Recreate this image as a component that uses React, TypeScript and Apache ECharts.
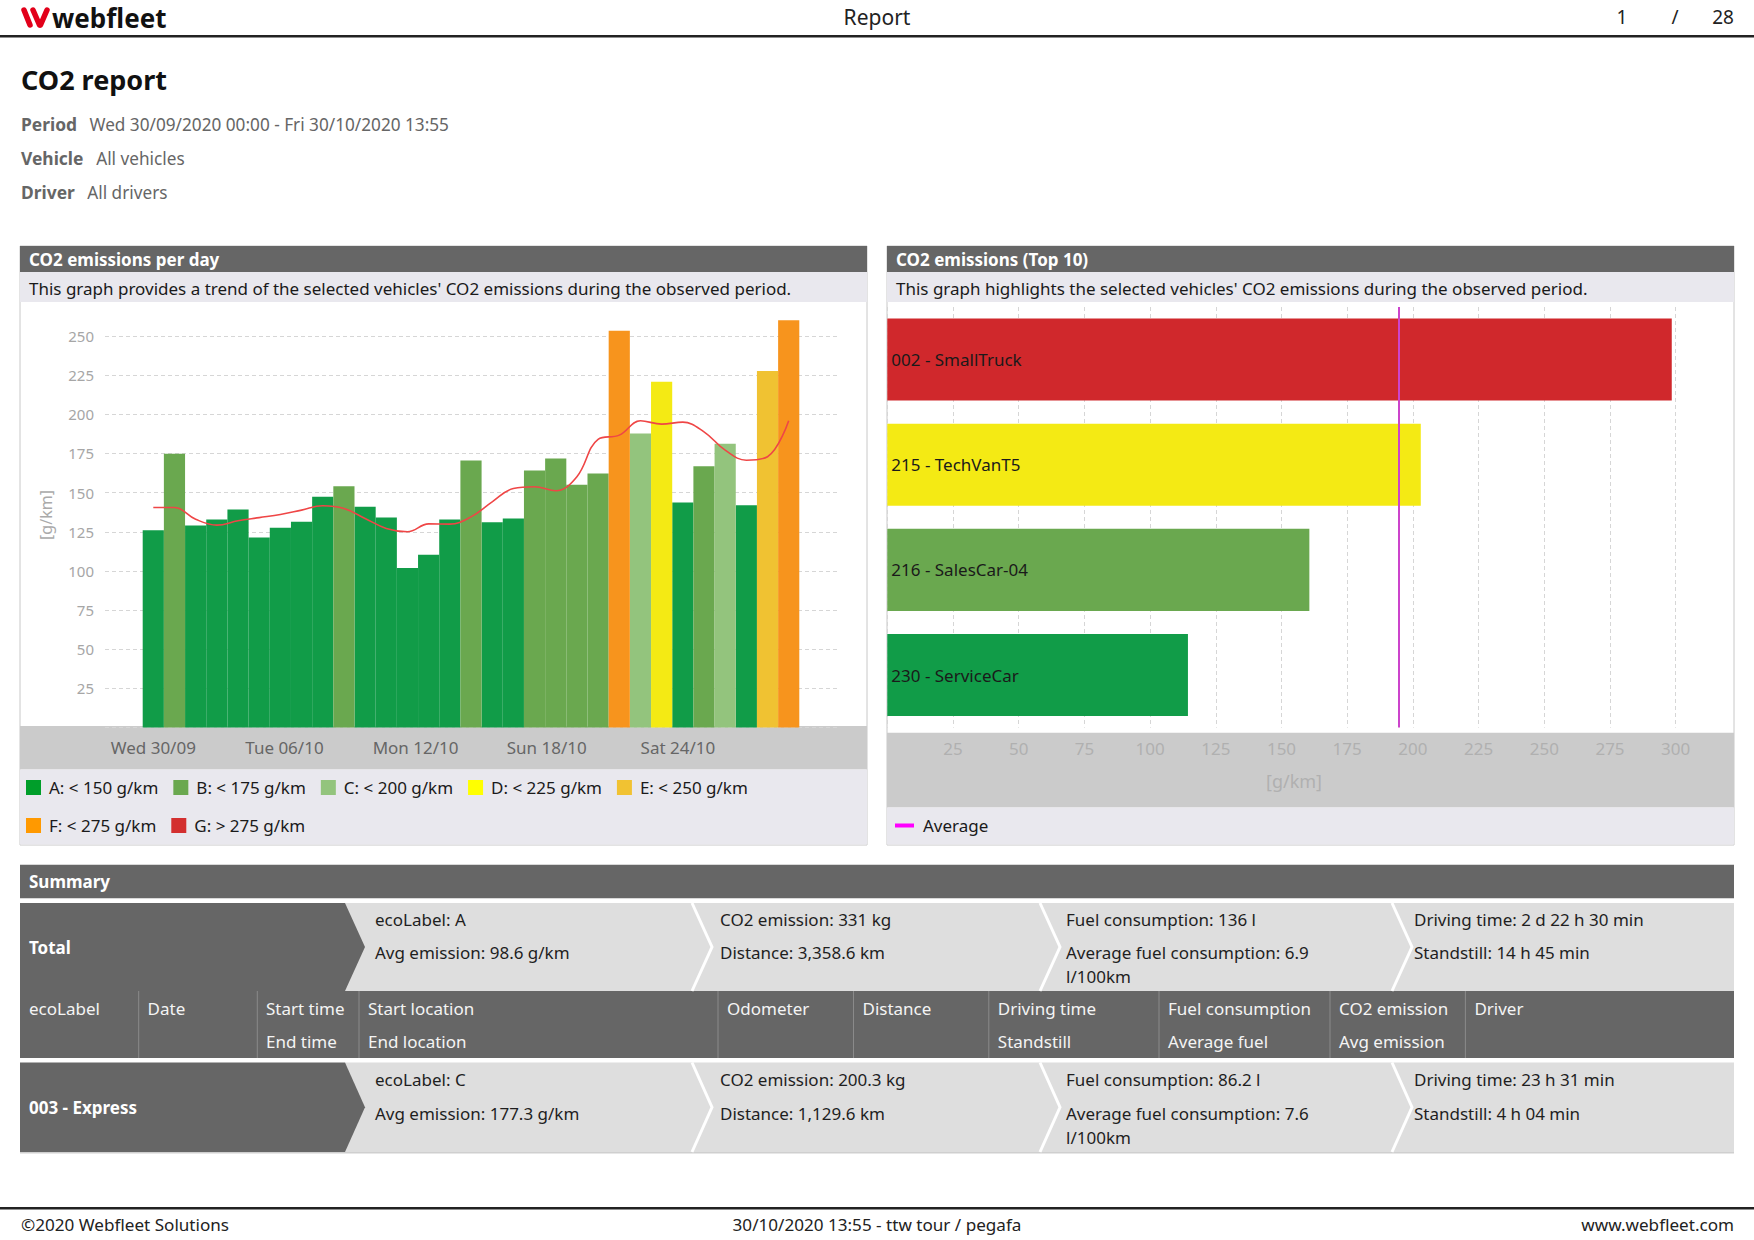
import React, { useEffect, useRef } from "react";
import * as echarts from "echarts";

const FONT = '"Noto Sans", "DejaVu Sans", sans-serif';

// ---------- data ----------
const dayLabels = [
  "Wed 30/09", "Thu 01/10", "Fri 02/10", "Sat 03/10", "Sun 04/10", "Mon 05/10",
  "Tue 06/10", "Wed 07/10", "Thu 08/10", "Fri 09/10", "Sat 10/10", "Sun 11/10",
  "Mon 12/10", "Tue 13/10", "Wed 14/10", "Thu 15/10", "Fri 16/10", "Sat 17/10",
  "Sun 18/10", "Mon 19/10", "Tue 20/10", "Wed 21/10", "Thu 22/10", "Fri 23/10",
  "Sat 24/10", "Sun 25/10", "Mon 26/10", "Tue 27/10", "Wed 28/10", "Thu 29/10",
  "Fri 30/10",
];
const dayTickIndexes = [0, 6, 12, 18, 24];
const dailyEmission = [
  126.0, 174.8, 129.0, 132.8, 139.2, 121.4, 127.5, 131.4, 147.3, 154.1, 140.9,
  134.1, 101.8, 110.3, 132.8, 170.5, 131.1, 133.5, 164.1, 171.8, 155.0, 162.2,
  253.4, 187.8, 220.8, 143.7, 166.9, 181.2, 142.0, 227.6, 260.0,
];
const trendEmission = [
  140.5, 140.5, 133.0, 129.2, 132.0, 134.0, 136.0, 138.8, 141.6, 139.9, 133.5,
  127.1, 125.0, 130.0, 129.9, 134.5, 144.1, 152.6, 153.7, 151.2, 160.1, 184.0,
  186.7, 195.9, 193.7, 195.0, 188.8, 177.1, 170.7, 172.9, 195.9,
];
const classNames = [
  "A: < 150 g/km", "B: < 175 g/km", "C: < 200 g/km", "D: < 225 g/km",
  "E: < 250 g/km", "F: < 275 g/km", "G: > 275 g/km",
];
const classLimits = [150, 175, 200, 225, 250, 275];
const barColors = ["#119c48", "#6aa84f", "#93c47d", "#f4ea14", "#f0c232", "#f7941d", "#d0282c"];
const legendColors = ["#009e2a", "#6aa84f", "#93c47d", "#ffff00", "#f1c232", "#ff9900", "#d32f2f"];
const topVehicles = ["002 - SmallTruck", "215 - TechVanT5", "216 - SalesCar-04", "230 - ServiceCar"];
const topEmission = [298.5, 203.0, 160.6, 114.4];
const averageEmission = 194.5;

const periodText = "Wed 30/09/2020 00:00 - Fri 30/10/2020 13:55";
const totalCells = [
  ["ecoLabel: A", "Avg emission: 98.6 g/km"],
  ["CO2 emission: 331 kg", "Distance: 3,358.6 km"],
  ["Fuel consumption: 136 l", "Average fuel consumption: 6.9", "l/100km"],
  ["Driving time: 2 d 22 h 30 min", "Standstill: 14 h 45 min"],
];
const expressCells = [
  ["ecoLabel: C", "Avg emission: 177.3 g/km"],
  ["CO2 emission: 200.3 kg", "Distance: 1,129.6 km"],
  ["Fuel consumption: 86.2 l", "Average fuel consumption: 7.6", "l/100km"],
  ["Driving time: 23 h 31 min", "Standstill: 4 h 04 min"],
];
const headerColumns = [
  ["ecoLabel"], ["Date"], ["Start time", "End time"], ["Start location", "End location"],
  ["Odometer"], ["Distance"], ["Driving time", "Standstill"],
  ["Fuel consumption", "Average fuel"], ["CO2 emission", "Avg emission"], ["Driver"],
];

// ---------- layout (page px) ----------
const headerColX = [29, 147.6, 266, 368, 727, 862.5, 997.8, 1168, 1339, 1474.4];
const headerSepX = [138.7, 257.3, 359, 718, 853.5, 988.8, 1159, 1330, 1465.4];
const sectionStartX = [345, 692, 1040, 1392];
const sectionTextX = [375, 720, 1066, 1414];

function classOf(v: number) {
  const i = classLimits.findIndex((l) => v < l);
  return i < 0 ? classLimits.length : i;
}

function txt(x: number, y: number, text: string, o: any = {}) {
  return {
    type: "text",
    x,
    y,
    z: o.z ?? 50,
    silent: true,
    style: {
      text,
      fill: o.fill ?? "#1a1a1a",
      fontSize: o.size ?? 17,
      fontFamily: FONT,
      fontWeight: o.weight ?? "normal",
      lineHeight: o.lineHeight,
      align: o.align ?? "left",
      textAlign: o.align ?? "left",
      verticalAlign: "middle",
      textVerticalAlign: "middle",
    },
    rotation: o.rotation ?? 0,
  };
}
function rect(x: number, y: number, w: number, h: number, fill: string, z = -10, stroke?: string) {
  return {
    type: "rect",
    z,
    silent: true,
    shape: { x, y, width: w, height: h },
    style: { fill, stroke: stroke ?? null, lineWidth: stroke ? 1 : 0 },
  };
}

function buildGraphics() {
  const g: any[] = [];
  // header
  const red = "#e2001a";
  [
    [[24, 10], [30, 25]],
    [[33, 10], [39.5, 25]],
    [[47, 10], [40.5, 25]],
  ].forEach((pts) =>
    g.push({
      type: "polyline",
      z: 50,
      silent: true,
      shape: { points: pts },
      style: { stroke: red, lineWidth: 5.5, lineCap: "round", fill: null },
    })
  );
  g.push(txt(52, 18, "webfleet", { size: 26, weight: "bold", fill: "#111", lineHeight: 26 }));
  g.push(txt(877, 17, "Report", { size: 21, align: "center", fill: "#222" }));
  g.push(txt(1622, 17, "1", { size: 19, align: "center", fill: "#222" }));
  g.push(txt(1675, 17, "/", { size: 19, align: "center", fill: "#222" }));
  g.push(txt(1723, 17, "28", { size: 19, align: "center", fill: "#222" }));
  g.push(rect(0, 35, 1754, 2.5, "#222", 40));

  g.push(txt(21, 79, "CO2 report", { size: 27, weight: "bold", fill: "#111" }));
  g.push(txt(21, 124, "Period", { size: 17.4, weight: "bold", fill: "#666" }));
  g.push(txt(89.5, 124, periodText, { size: 17.2, fill: "#666" }));
  g.push(txt(21, 158, "Vehicle", { size: 17.4, weight: "bold", fill: "#666" }));
  g.push(txt(96.2, 158, "All vehicles", { size: 17.2, fill: "#666" }));
  g.push(txt(21, 192, "Driver", { size: 17.4, weight: "bold", fill: "#666" }));
  g.push(txt(87.3, 192, "All drivers", { size: 17.2, fill: "#666" }));

  // panels
  const panels = [
    { x: 20, title: "CO2 emissions per day", desc: "This graph provides a trend of the selected vehicles' CO2 emissions during the observed period.", band: [726, 769.6] },
    { x: 887, title: "CO2 emissions (Top 10)", desc: "This graph highlights the selected vehicles' CO2 emissions during the observed period.", band: [732.7, 807.6] },
  ];
  panels.forEach((p) => {
    g.push(rect(p.x, 246, 847, 599, "#ffffff", -20, "#c8c8c8"));
    g.push(rect(p.x, 246, 847, 26, "#666666", -10));
    g.push(txt(p.x + 9, 259.5, p.title, { size: 17, weight: "bold", fill: "#ffffff" }));
    g.push(rect(p.x, 272, 847, 30, "#e9e8ee", -10));
    g.push(txt(p.x + 9, 288, p.desc, { size: 17, fill: "#1a1a1a" }));
    g.push(rect(p.x, p.band[0], 847, p.band[1] - p.band[0], "#cbcbcb", -10));
    g.push(rect(p.x, p.band[1], 847, 844.6 - p.band[1], "#e9e8ee", -10));
  });
  g.push(txt(46, 515, "[g/km]", { size: 16, fill: "#aaaaaa", align: "center", rotation: Math.PI / 2 }));
  g.push(txt(1294, 781, "[g/km]", { size: 18, fill: "#b0b0b0", align: "center" }));

  // summary
  g.push(rect(20, 864.7, 1714, 33.5, "#666666", -10));
  g.push(txt(29, 881.5, "Summary", { size: 17, weight: "bold", fill: "#ffffff" }));

  const row = (top: number, h: number, label: string, cells: string[][], lineY: number[]) => {
    g.push(rect(345, top, 1389, h, "#dedede", -10));
    const mid = top + h / 2;
    g.push({
      type: "polygon",
      z: -5,
      silent: true,
      shape: { points: [[20, top], [345, top], [365, mid], [345, top + h], [20, top + h]] },
      style: { fill: "#666666" },
    });
    sectionStartX.slice(1).forEach((sx) =>
      g.push({
        type: "polyline",
        z: -4,
        silent: true,
        shape: { points: [[sx, top], [sx + 20, mid], [sx, top + h]] },
        style: { stroke: "#ffffff", lineWidth: 3, fill: null },
      })
    );
    g.push(txt(29, mid, label, { size: 17, weight: "bold", fill: "#ffffff" }));
    cells.forEach((lines, ci) =>
      lines.forEach((t, li) => g.push(txt(sectionTextX[ci], lineY[li], t, { size: 17, fill: "#1f1f1f" })))
    );
  };
  row(903, 88, "Total", totalCells, [919.5, 952, 976.5]);

  g.push(rect(20, 991, 1714, 67, "#666666", -10));
  headerSepX.forEach((sx) =>
    g.push({
      type: "line",
      z: -4,
      silent: true,
      shape: { x1: sx, y1: 991, x2: sx, y2: 1058 },
      style: { stroke: "#8a8a8a", lineWidth: 1 },
    })
  );
  headerColumns.forEach((lines, ci) =>
    lines.forEach((t, li) => g.push(txt(headerColX[ci], li === 0 ? 1008 : 1041.4, t, { size: 17, fill: "#f4f4f4" })))
  );

  row(1062.5, 89.5, "003 - Express", expressCells, [1079.5, 1113, 1137.6]);
  g.push(rect(20, 1152, 1714, 1.5, "#cfcfcf", -10));

  // footer
  g.push(rect(0, 1207, 1754, 2.5, "#222", 40));
  g.push(txt(21, 1224, "©2020 Webfleet Solutions", { size: 17.1, fill: "#222" }));
  g.push(txt(877, 1224, "30/10/2020 13:55 - ttw tour / pegafa", { size: 17.1, fill: "#222", align: "center" }));
  g.push(txt(1734, 1224, "www.webfleet.com", { size: 17.1, fill: "#222", align: "right" }));
  return g;
}

function buildOption() {
  const dash = { type: [4, 3], color: "#d6d6d6", width: 1 };
  const dailySeries = classNames.map((name, c) => ({
    type: "bar",
    name,
    xAxisIndex: 1,
    yAxisIndex: 1,
    stack: "day",
    barCategoryGap: "0%",
    clip: false,
    itemStyle: { color: barColors[c] },
    data: dailyEmission.map((v) => (classOf(v) === c ? v : "-")),
  }));
  return {
    animation: false,
    textStyle: { fontFamily: FONT },
    graphic: { elements: buildGraphics() },
    grid: [
      { left: 105, top: 336, width: 732, height: 391.5 },
      { left: 142.7, top: 336, width: 656.6, height: 391.5 },
      { left: 887.3, top: 307, width: 788.4, height: 420.6 },
    ],
    xAxis: [
      {
        // date labels of the daily chart (their own time scale, offset from the bars)
        type: "value",
        gridIndex: 0,
        min: -2.21,
        max: 31.28,
        axisLine: { show: false },
        axisTick: { show: false },
        splitLine: { show: false },
        axisLabel: {
          customValues: dayTickIndexes,
          formatter: (v: number) => dayLabels[Math.round(v)] ?? "",
          color: "#666666",
          fontSize: 17,
          fontFamily: FONT,
          margin: 11,
        },
      },
      {
        type: "category",
        gridIndex: 1,
        data: dayLabels,
        axisLine: { show: false },
        axisTick: { show: false },
        splitLine: { show: false },
        axisLabel: { show: false },
      },
      {
        type: "value",
        gridIndex: 2,
        min: 0,
        max: 300,
        interval: 25,
        axisLine: { show: false },
        axisTick: { show: false },
        splitLine: { show: true, lineStyle: dash },
        axisLabel: { showMinLabel: false, color: "#b0b0b0", fontSize: 17, fontFamily: FONT, margin: 12 },
      },
    ],
    yAxis: [
      {
        type: "value",
        gridIndex: 0,
        min: 0,
        max: 250,
        interval: 25,
        axisLine: { show: false },
        axisTick: { show: false },
        splitLine: { show: true, lineStyle: dash },
        axisLabel: { showMinLabel: false, color: "#a6a6a6", fontSize: 15, fontFamily: FONT, margin: 11 },
      },
      { type: "value", gridIndex: 1, min: 0, max: 250, show: false, splitLine: { show: false } },
      { type: "category", gridIndex: 2, data: topVehicles, inverse: true, show: false },
    ],
    legend: [
      {
        data: classNames.map((n, i) => ({ name: n, itemStyle: { color: legendColors[i] } })),
        left: 26,
        top: 776,
        width: 760,
        padding: 0,
        icon: "rect",
        itemWidth: 15,
        itemHeight: 15,
        itemGap: 15,
        selectedMode: false,
        textStyle: { fontSize: 17, color: "#1a1a1a", fontFamily: FONT, lineHeight: 23, padding: [0, 0, 0, 3] },
      },
      {
        data: [{ name: "Average", itemStyle: { color: "#ff00ff" } }],
        left: 895,
        top: 815.5,
        padding: 0,
        icon: "rect",
        itemWidth: 19,
        itemHeight: 4,
        selectedMode: false,
        textStyle: { fontSize: 17, color: "#1a1a1a", fontFamily: FONT, lineHeight: 20, padding: [0, 0, 0, 4] },
      },
    ],
    series: [
      ...dailySeries,
      {
        type: "line",
        name: "trend",
        xAxisIndex: 1,
        yAxisIndex: 1,
        data: trendEmission,
        smooth: 0.4,
        showSymbol: false,
        symbol: "none",
        lineStyle: { color: "#ef4646", width: 1.6 },
        itemStyle: { color: "#ef4646" },
        z: 5,
      },
      {
        type: "bar",
        name: "Top 10",
        xAxisIndex: 2,
        yAxisIndex: 2,
        barCategoryGap: "22%",
        data: topEmission.map((v) => ({ value: v, itemStyle: { color: barColors[classOf(v)] } })),
        label: {
          show: true,
          position: "insideLeft",
          formatter: "{b}",
          color: "#1a1a1a",
          fontSize: 17,
          fontFamily: FONT,
          distance: 4,
        },
        markLine: {
          silent: true,
          symbol: "none",
          label: { show: false },
          lineStyle: { color: "#cc44cc", width: 2, type: "solid" },
          data: [{ xAxis: averageEmission }],
        },
      },
      {
        type: "line",
        name: "Average",
        xAxisIndex: 2,
        yAxisIndex: 2,
        data: [],
        itemStyle: { color: "#ff00ff" },
        lineStyle: { color: "#ff00ff" },
      },
    ],
  };
}

export default function App() {
  const ref = useRef<HTMLDivElement>(null);
  useEffect(() => {
    if (!ref.current) return;
    const chart = echarts.init(ref.current, undefined, { renderer: "svg" });
    chart.setOption(buildOption() as any);
    return () => chart.dispose();
  }, []);
  return (
    <div
      ref={ref}
      style={{ position: "absolute", left: 0, top: 0, width: 1754, height: 1240, background: "#ffffff" }}
    />
  );
}
